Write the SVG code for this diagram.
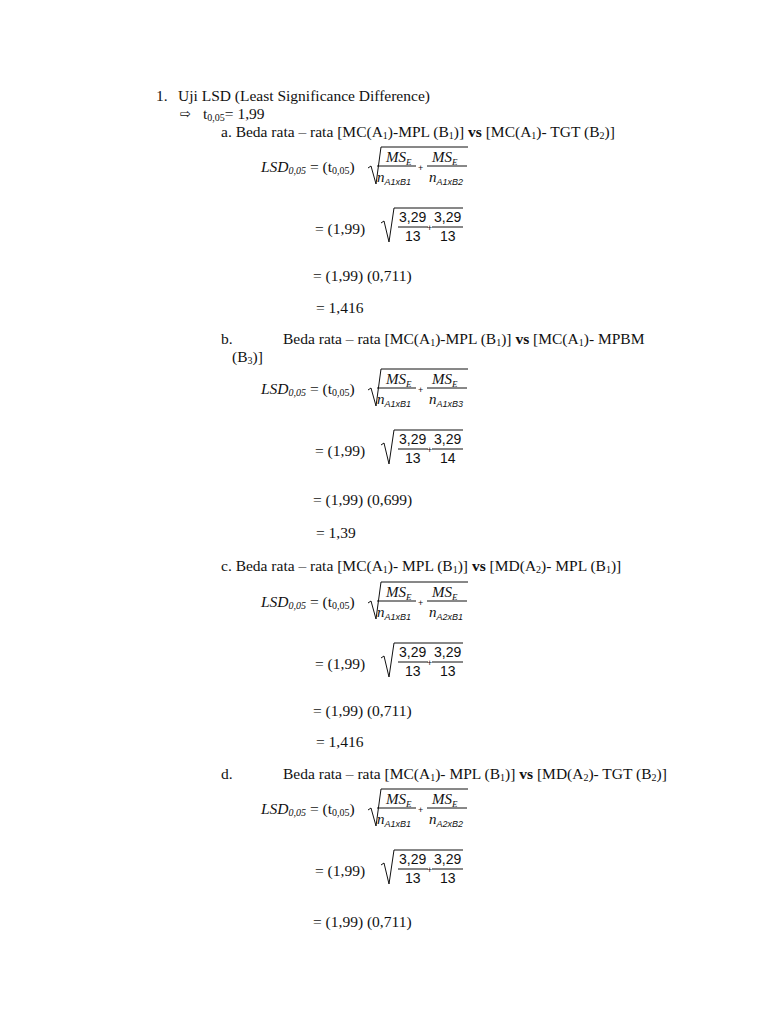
<svg xmlns="http://www.w3.org/2000/svg" width="768" height="1024" viewBox="0 0 768 1024">
<style>
text{font-family:"Liberation Serif",serif;font-size:15.5px;fill:#111}
.s{font-size:10px}
.i{font-style:italic}
.f{font-family:"Liberation Sans",sans-serif;font-size:14px}
.n{font-family:"Liberation Serif",serif;font-style:italic;font-size:15px}
.sm{font-family:"Liberation Sans",sans-serif;font-size:9px}
.pl{font-family:"Liberation Sans",sans-serif;font-size:9px}
.ln{stroke:#111;stroke-width:1;fill:none}
</style>
<defs>
<g id="sq"><polyline class="ln" points="368,168 371,166 376,184 381,147 468,147"/></g>
<g id="sq2"><polyline class="ln" points="381,223 384,221 389,242 394,208 463,208"/></g>
</defs>
<rect width="768" height="1024" fill="#fff"/>
<text x="156" y="101">1.</text>
<text x="178" y="101">Uji LSD (Least Significance Difference)</text>
<text x="180" y="118" style="font-family:'DejaVu Sans',sans-serif;font-size:13px">⇨</text>
<text x="203" y="119">t<tspan class="s" dy="2">0,05</tspan><tspan dy="-2">= 1,99</tspan></text>

<g id="blockA">
<text x="221" y="137">a.  Beda rata – rata [MC(A<tspan class="s" dy="2">1</tspan><tspan dy="-2">)-MPL (B</tspan><tspan class="s" dy="2">1</tspan><tspan dy="-2">)] </tspan><tspan font-weight="bold">vs</tspan> [MC(A<tspan class="s" dy="2">1</tspan><tspan dy="-2">)- TGT (B</tspan><tspan class="s" dy="2">2</tspan><tspan dy="-2">)]</tspan></text>
</g>
<g id="formulaA">
<text x="261" y="172" class="i">LSD<tspan class="s" dy="2">0,05</tspan><tspan dy="-2" font-style="normal"> = (t</tspan><tspan class="s" dy="2" font-style="normal">0,05</tspan><tspan dy="-2" font-style="normal">)</tspan></text>
<use href="#sq"/>
<text x="386" y="162" class="n">MS<tspan dy="3" font-size="9">E</tspan></text>
<text x="432" y="162" class="n">MS<tspan dy="3" font-size="9">E</tspan></text>
<line class="ln" x1="377" y1="166" x2="416" y2="166"/>
<line class="ln" x1="427" y1="166" x2="467" y2="166"/>
<text x="418" y="171" class="pl">+</text>
<text x="377" y="182" class="n">n<tspan class="sm" dy="3">A1xB1</tspan></text>
<text x="429" y="182" class="n">n<tspan class="sm" dy="3">A1xB2</tspan></text>
<text x="315" y="234">= (1,99)</text>
<use href="#sq2"/>
<text x="399" y="222" class="f">3,29</text><text x="434" y="222" class="f">3,29</text>
<line class="ln" x1="398" y1="227" x2="428" y2="227"/><line class="ln" x1="432" y1="227" x2="463" y2="227"/>
<text x="427" y="231" class="pl">+</text>
<text x="405" y="241" class="f">13</text><text x="440" y="241" class="f">13</text>
<text x="313" y="281">= (1,99) (0,711)</text>
<text x="316" y="313">= 1,416</text>
</g>

<g id="blockB">
<text x="221" y="344">b.</text>
<text x="283" y="344">Beda rata – rata [MC(A<tspan class="s" dy="2">1</tspan><tspan dy="-2">)-MPL (B</tspan><tspan class="s" dy="2">1</tspan><tspan dy="-2">)] </tspan><tspan font-weight="bold">vs</tspan> [MC(A<tspan class="s" dy="2">1</tspan><tspan dy="-2">)- MPBM</tspan></text>
<text x="232" y="362">(B<tspan class="s" dy="2">3</tspan><tspan dy="-2">)]</tspan></text>
</g>
<g id="formulaB" transform="translate(0,222)">
<text x="261" y="172" class="i">LSD<tspan class="s" dy="2">0,05</tspan><tspan dy="-2" font-style="normal"> = (t</tspan><tspan class="s" dy="2" font-style="normal">0,05</tspan><tspan dy="-2" font-style="normal">)</tspan></text>
<use href="#sq"/>
<text x="386" y="162" class="n">MS<tspan dy="3" font-size="9">E</tspan></text>
<text x="432" y="162" class="n">MS<tspan dy="3" font-size="9">E</tspan></text>
<line class="ln" x1="377" y1="166" x2="416" y2="166"/>
<line class="ln" x1="427" y1="166" x2="467" y2="166"/>
<text x="418" y="171" class="pl">+</text>
<text x="377" y="182" class="n">n<tspan class="sm" dy="3">A1xB1</tspan></text>
<text x="429" y="182" class="n">n<tspan class="sm" dy="3">A1xB3</tspan></text>
<text x="315" y="234">= (1,99)</text>
<use href="#sq2"/>
<text x="399" y="222" class="f">3,29</text><text x="434" y="222" class="f">3,29</text>
<line class="ln" x1="398" y1="227" x2="428" y2="227"/><line class="ln" x1="432" y1="227" x2="463" y2="227"/>
<text x="427" y="231" class="pl">+</text>
<text x="405" y="241" class="f">13</text><text x="440" y="241" class="f">14</text>
<text x="313" y="283">= (1,99) (0,699)</text>
<text x="316" y="316">= 1,39</text>
</g>

<g id="blockC">
<text x="221" y="571">c.  Beda rata – rata [MC(A<tspan class="s" dy="2">1</tspan><tspan dy="-2">)- MPL (B</tspan><tspan class="s" dy="2">1</tspan><tspan dy="-2">)] </tspan><tspan font-weight="bold">vs</tspan> [MD(A<tspan class="s" dy="2">2</tspan><tspan dy="-2">)- MPL (B</tspan><tspan class="s" dy="2">1</tspan><tspan dy="-2">)]</tspan></text>
</g>
<g id="formulaC" transform="translate(0,435)">
<text x="261" y="172" class="i">LSD<tspan class="s" dy="2">0,05</tspan><tspan dy="-2" font-style="normal"> = (t</tspan><tspan class="s" dy="2" font-style="normal">0,05</tspan><tspan dy="-2" font-style="normal">)</tspan></text>
<use href="#sq"/>
<text x="386" y="162" class="n">MS<tspan dy="3" font-size="9">E</tspan></text>
<text x="432" y="162" class="n">MS<tspan dy="3" font-size="9">E</tspan></text>
<line class="ln" x1="377" y1="166" x2="416" y2="166"/>
<line class="ln" x1="427" y1="166" x2="467" y2="166"/>
<text x="418" y="171" class="pl">+</text>
<text x="377" y="182" class="n">n<tspan class="sm" dy="3">A1xB1</tspan></text>
<text x="429" y="182" class="n">n<tspan class="sm" dy="3">A2xB1</tspan></text>
<text x="315" y="234">= (1,99)</text>
<use href="#sq2"/>
<text x="399" y="222" class="f">3,29</text><text x="434" y="222" class="f">3,29</text>
<line class="ln" x1="398" y1="227" x2="428" y2="227"/><line class="ln" x1="432" y1="227" x2="463" y2="227"/>
<text x="427" y="231" class="pl">+</text>
<text x="405" y="241" class="f">13</text><text x="440" y="241" class="f">13</text>
<text x="313" y="281">= (1,99) (0,711)</text>
<text x="316" y="312">= 1,416</text>
</g>

<g id="blockD">
<text x="221" y="779">d.</text>
<text x="283" y="779">Beda rata – rata [MC(A<tspan class="s" dy="2">1</tspan><tspan dy="-2">)- MPL (B</tspan><tspan class="s" dy="2">1</tspan><tspan dy="-2">)] </tspan><tspan font-weight="bold">vs</tspan> [MD(A<tspan class="s" dy="2">2</tspan><tspan dy="-2">)- TGT (B</tspan><tspan class="s" dy="2">2</tspan><tspan dy="-2">)]</tspan></text>
</g>
<g id="formulaD" transform="translate(0,642)">
<text x="261" y="172" class="i">LSD<tspan class="s" dy="2">0,05</tspan><tspan dy="-2" font-style="normal"> = (t</tspan><tspan class="s" dy="2" font-style="normal">0,05</tspan><tspan dy="-2" font-style="normal">)</tspan></text>
<use href="#sq"/>
<text x="386" y="162" class="n">MS<tspan dy="3" font-size="9">E</tspan></text>
<text x="432" y="162" class="n">MS<tspan dy="3" font-size="9">E</tspan></text>
<line class="ln" x1="377" y1="166" x2="416" y2="166"/>
<line class="ln" x1="427" y1="166" x2="467" y2="166"/>
<text x="418" y="171" class="pl">+</text>
<text x="377" y="182" class="n">n<tspan class="sm" dy="3">A1xB1</tspan></text>
<text x="429" y="182" class="n">n<tspan class="sm" dy="3">A2xB2</tspan></text>
<text x="315" y="234">= (1,99)</text>
<use href="#sq2"/>
<text x="399" y="222" class="f">3,29</text><text x="434" y="222" class="f">3,29</text>
<line class="ln" x1="398" y1="227" x2="428" y2="227"/><line class="ln" x1="432" y1="227" x2="463" y2="227"/>
<text x="427" y="231" class="pl">+</text>
<text x="405" y="241" class="f">13</text><text x="440" y="241" class="f">13</text>
<text x="313" y="285">= (1,99) (0,711)</text>
</g>
</svg>
